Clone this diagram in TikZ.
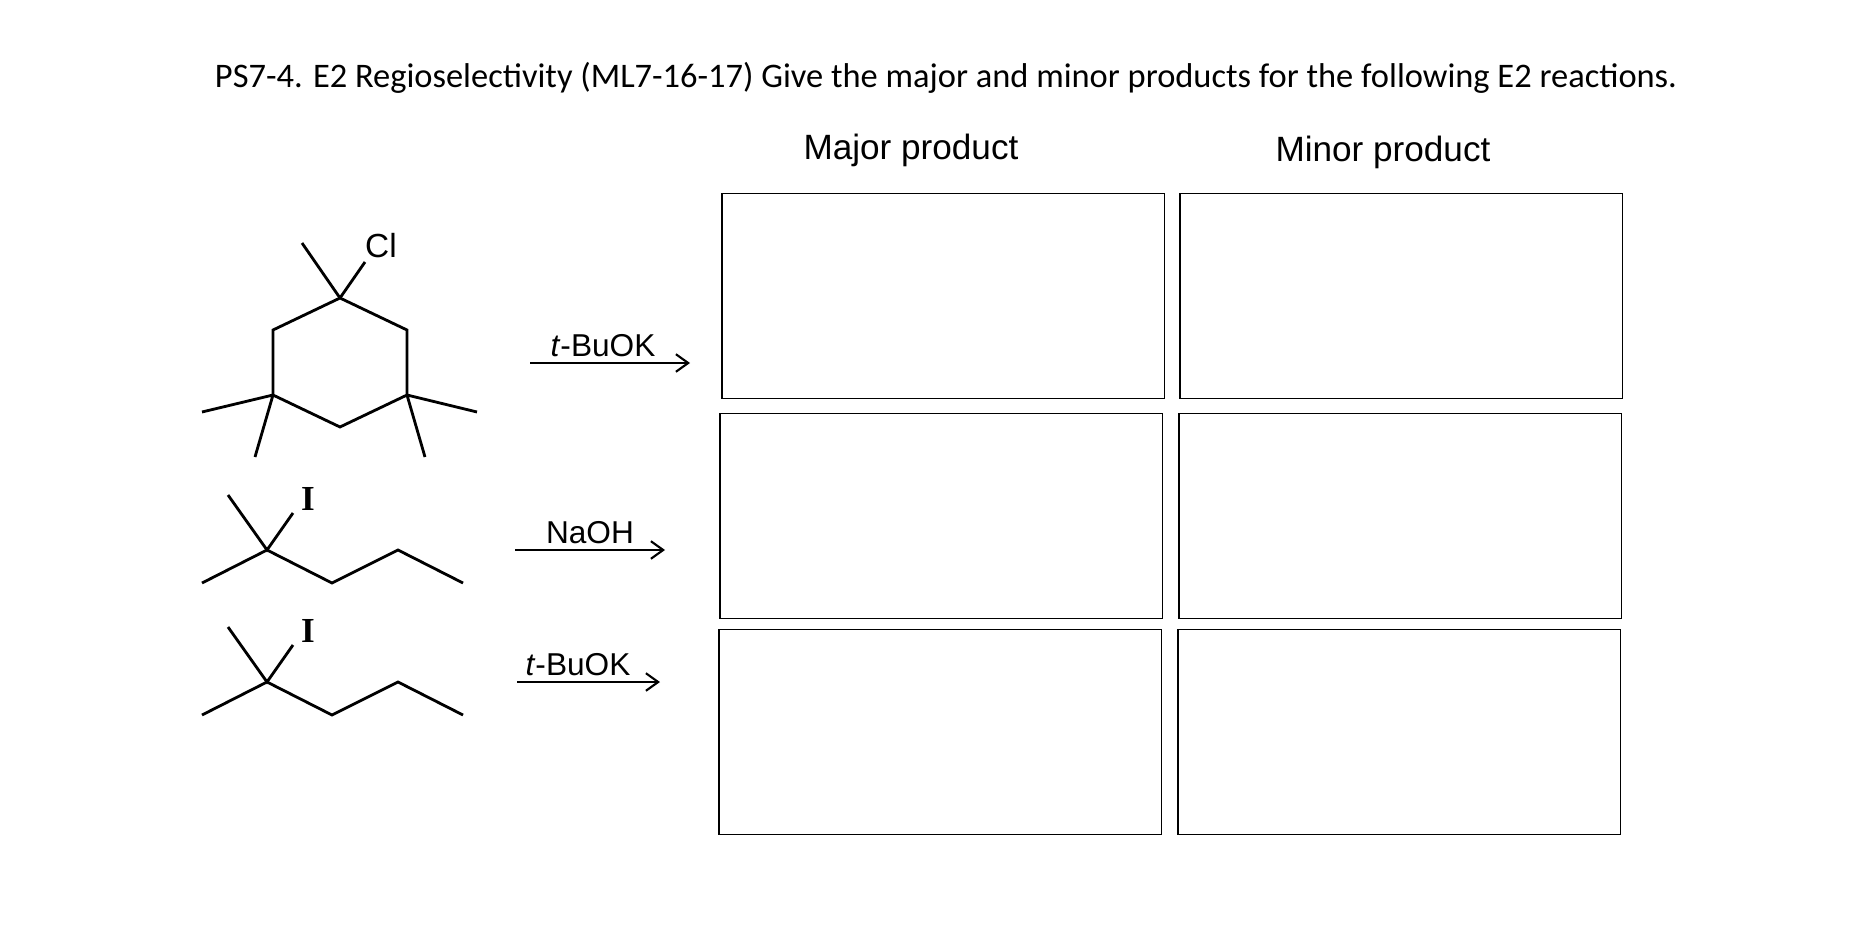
\documentclass[tikz,border=0pt]{standalone}
\usepackage{fontspec}
\setmainfont{Carlito}
\newfontfamily\arialf{Liberation Sans}
\newfontfamily\timesf{Liberation Serif}
\usetikzlibrary{arrows.meta}
\begin{document}
\begin{tikzpicture}[x=0.02cm,y=-0.02cm,
    bond/.style={line width=1.6pt, line join=miter},
    rxn/.style={line width=1.2pt, -{Straight Barb[length=7pt,width=10pt]}},
    answer/.style={draw, line width=1.1pt, minimum width=8.86cm, minimum height=4.1cm, inner sep=0pt},
    reagent/.style={font=\arialf\fontsize{18}{20}\selectfont},
    header/.style={font=\arialf\fontsize{20}{24}\selectfont}]
  \useasboundingbox (0,0) rectangle (1867,946);

  \node (title) at (946,78) {\fontsize{19.6}{24}\selectfont PS7-4. E2 Regioselectivity (ML7-16-17) Give the major and minor products for the following E2 reactions.};
  \node[header] (hmajor) at (911,150) {Major product};
  \node[header] (hminor) at (1383,152) {Minor product};

  % answer boxes
  \node[answer] (maj1) at (943,296) {};
  \node[answer] (min1) at (1401,296) {};
  \node[answer] (maj2) at (941,516) {};
  \node[answer] (min2) at (1400,516) {};
  \node[answer] (maj3) at (940,732) {};
  \node[answer] (min3) at (1399,732) {};

  % 1-chloro-1,3,3,5,5-pentamethylcyclohexane
  \draw[bond] (340,298) -- (407,330) -- (407,395) -- (340,427) -- (273,395) -- (273,330) -- cycle;
  \draw[bond] (340,298) -- (302,243);
  \draw[bond] (340,298) -- (365,262);
  \node[reagent, font=\arialf\fontsize{19}{20}\selectfont] (cl) at (381,246) {Cl};
  \draw[bond] (273,395) -- (202,412)  (273,395) -- (255,457);
  \draw[bond] (407,395) -- (477,412)  (407,395) -- (425,457);

  % 2-iodo-2-methylpentane
  \foreach \dy/\nm in {0/a, 132/b} {
    \begin{scope}[yshift={-\dy*0.02cm}]
      \draw[bond] (228,495) -- (267,550) -- (293,513);
      \draw[bond] (202,583) -- (267,550) -- (332,583) -- (398,550) -- (463,583);
      \node (iod\nm) at (308,499) {\timesf\fontsize{20}{22}\selectfont\bfseries I};
    \end{scope}
  }

  % reaction arrows
  \coordinate (s1) at (530,363);  \coordinate (e1) at (690,363);
  \coordinate (s2) at (515,550);  \coordinate (e2) at (665,550);
  \coordinate (s3) at (517,682);  \coordinate (e3) at (660,682);
  \draw[rxn] (s1) -- (e1);
  \draw[rxn] (s2) -- (e2);
  \draw[rxn] (s3) -- (e3);
  \node[reagent, above=0pt] (r1) at (603,363) {\textit{t}-BuOK};
  \node[reagent, above=0pt] (r2) at (590,550) {NaOH};
  \node[reagent, above=0pt] (r3) at (578,682) {\textit{t}-BuOK};
\end{tikzpicture}
\end{document}
